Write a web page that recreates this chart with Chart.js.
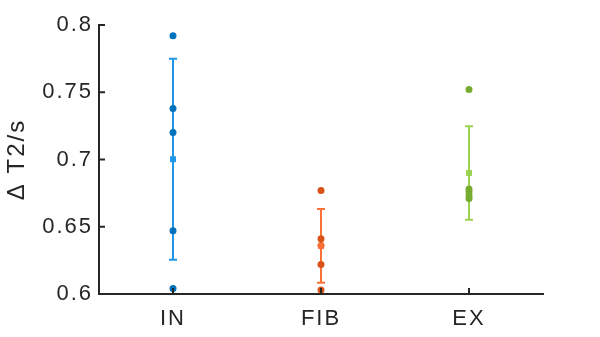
<!DOCTYPE html>
<html>
<head>
<meta charset="utf-8">
<script src="https://cdn.jsdelivr.net/npm/chart.js@4/dist/chart.umd.min.js"></script>
<style>
  html, body { margin: 0; padding: 0; background: #fff; }
  #wrap { width: 600px; height: 337px; }
</style>
</head>
<body>
<div id="wrap"><canvas id="c" width="600" height="337"></canvas></div>
<script>
// Data
const categories = ['IN', 'FIB', 'EX'];
const inValues  = [0.792, 0.738, 0.720, 0.647, 0.604];
const fibValues = [0.677, 0.641, 0.636, 0.622, 0.603];
const exValues  = [0.752, 0.678, 0.676, 0.673, 0.671];
const yTicks = [0.6, 0.65, 0.7, 0.75, 0.8];

const pointColors = ['#0072BD', '#D95319', '#77AC30'];
const barColors   = ['#2196E6', '#FF7035', '#9BD24F'];
const axisColor = '#262626';
const fontFamily = 'Liberation Sans, Arial, sans-serif';

const groups = [inValues, fibValues, exValues];

function mean(a) { return a.reduce((s, v) => s + v, 0) / a.length; }
function sd(a) {
  const m = mean(a);
  return Math.sqrt(a.reduce((s, v) => s + (v - m) * (v - m), 0) / (a.length - 1));
}
const means = groups.map(mean);
const sds = groups.map(sd);

const datasets = [];
groups.forEach((g, i) => {
  datasets.push({
    label: categories[i] + ' mean',
    data: [{ x: i + 1, y: means[i] }],
    pointStyle: 'rect',
    pointRadius: 4.2,
    backgroundColor: barColors[i],
    borderColor: barColors[i],
    borderWidth: 0,
    clip: false,
  });
});
groups.forEach((g, i) => {
  datasets.push({
    label: categories[i],
    data: g.map(v => ({ x: i + 1, y: v })),
    pointRadius: 3.5,
    backgroundColor: pointColors[i],
    borderColor: pointColors[i],
    borderWidth: 0,
    clip: false,
  });
});

// wider text like the original export
const spacing = {
  id: 'spacing',
  beforeDraw(chart) { chart.ctx.letterSpacing = '2px'; }
};

// error bars (mean ± sd) with caps
const errorBars = {
  id: 'errorBars',
  beforeDatasetsDraw(chart) {
    const { ctx, scales: { x, y } } = chart;
    ctx.save();
    ctx.lineWidth = 2;
    groups.forEach((g, i) => {
      const px = x.getPixelForValue(i + 1);
      const top = y.getPixelForValue(means[i] + sds[i]);
      const bot = y.getPixelForValue(means[i] - sds[i]);
      ctx.strokeStyle = barColors[i];
      ctx.beginPath();
      ctx.moveTo(px, top); ctx.lineTo(px, bot);
      ctx.moveTo(px - 4, top); ctx.lineTo(px + 4, top);
      ctx.moveTo(px - 4, bot); ctx.lineTo(px + 4, bot);
      ctx.stroke();
    });
    ctx.restore();
  }
};

// inward tick marks
const innerTicks = {
  id: 'innerTicks',
  afterDraw(chart) {
    const { ctx, chartArea: a, scales: { x, y } } = chart;
    ctx.save();
    ctx.strokeStyle = axisColor;
    ctx.lineWidth = 2;
    ctx.beginPath();
    yTicks.forEach(v => {
      const py = y.getPixelForValue(v);
      ctx.moveTo(a.left, py); ctx.lineTo(a.left + 6, py);
    });
    categories.forEach((c, i) => {
      const px = x.getPixelForValue(i + 1);
      ctx.moveTo(px, a.bottom); ctx.lineTo(px, a.bottom - 6);
    });
    ctx.stroke();
    ctx.restore();
  }
};

new Chart(document.getElementById('c'), {
  type: 'scatter',
  data: { datasets },
  plugins: [spacing, errorBars, innerTicks],
  options: {
    responsive: false,
    animation: false,
    layout: { padding: { top: 25, right: 57, left: 0, bottom: 0 } },
    plugins: { legend: { display: false }, tooltip: { enabled: false } },
    scales: {
      x: {
        type: 'linear',
        min: 0.5, max: 3.5,
        afterBuildTicks: s => { s.ticks = categories.map((c, i) => ({ value: i + 1 })); },
        afterFit: s => { s.height = 43; },
        ticks: {
          callback: v => categories[v - 1],
          color: axisColor,
          font: { family: fontFamily, size: 22 },
          padding: 12,
          maxRotation: 0,
        },
        grid: { drawOnChartArea: false, drawTicks: false },
        border: { color: axisColor, width: 2 },
      },
      y: {
        min: 0.6, max: 0.8,
        afterBuildTicks: s => { s.ticks = yTicks.map(v => ({ value: v })); },
        afterFit: s => { s.width = 99; },
        ticks: {
          callback: v => String(+v.toFixed(2)),
          color: axisColor,
          font: { family: fontFamily, size: 22 },
          padding: 6,
        },
        grid: { drawOnChartArea: false, drawTicks: false },
        border: { color: axisColor, width: 2 },
        title: {
          display: true,
          text: 'Δ T2/s',
          color: axisColor,
          font: { family: fontFamily, size: 24 },
          padding: { top: 3, bottom: 0 },
        },
      },
    },
  },
});
</script>
</body>
</html>
